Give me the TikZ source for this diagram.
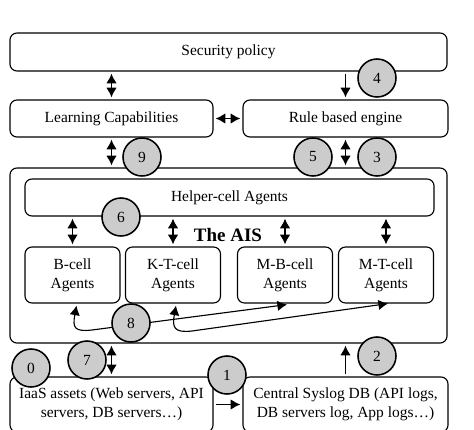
\documentclass[tikz,border=0pt]{standalone}
\usepackage{fontspec}
\setmainfont{Liberation Serif}
\usetikzlibrary{arrows.meta, positioning, calc}
\tikzset{>={Latex[width=2.6mm,length=2.4mm]}}

\begin{document}
\begin{tikzpicture}[x=0.025cm, y=-0.025cm, font=\fontsize{11}{13.5}\selectfont,
	box/.style={draw, thick, rounded corners=5pt, align=center, inner sep=0pt},
	agent/.style={box, minimum width=2.375cm, minimum height=1.4cm},
	num/.style={circle, draw, line width=1.1pt, fill=gray!40, minimum size=0.95cm, inner sep=0pt},
	link/.style={arrows={Latex[width=2.6mm,length=2.4mm]-Latex[width=2.6mm,length=2.4mm]}, thick, shorten <=1.5pt, shorten >=1.5pt},
	oneway/.style={arrows={-Latex[width=2.6mm,length=2.4mm]}, thick, shorten <=1.5pt, shorten >=1.5pt}]
			\useasboundingbox (0,0) rectangle (474,429);
			\node (sec) [box, minimum width=10.925cm, minimum height=0.95cm] at (228.5,52) {Security policy};
			\node (learn) [box, minimum width=5.075cm, minimum height=0.925cm] at (111.5,118.5) {Learning Capabilities};
			\node (rule) [box, minimum width=5.125cm, minimum height=0.925cm] at (345.5,118.5) {Rule based engine};
			\node (ais) [box, minimum width=10.925cm, minimum height=4.375cm] at (228.5,255.5) {};
			\node (helper) [box, minimum width=10.225cm, minimum height=0.925cm] at (229.5,197.5) {Helper-cell Agents};
			\node (aisname) at (228,235) {\fontsize{13.5}{15}\selectfont\bfseries The AIS};
			\node (bcell) [agent] at (72.5,275) {B-cell\\Agents};
			\node (ktcell) [agent] at (173,275) {K-T-cell\\Agents};
			\node (mbcell) [agent] at (285,275) {M-B-cell\\Agents};
			\node (mtcell) [agent] at (386,275) {M-T-cell\\Agents};
			\node (iaas) [box, minimum width=5.075cm, minimum height=1.375cm] at (111.5,404.5) {IaaS assets (Web servers, API\\servers, DB servers\ldots)};
			\node (syslog) [box, minimum width=5.125cm, minimum height=1.375cm] at (345.5,404.5) {Central Syslog DB (API logs,\\DB servers log, App logs\ldots)};
			\path[link]
			(sec.south -| learn.north) edge (learn.north)
			(learn.east) edge (rule.west)
			(learn.south) edge (ais.north -| learn.south)
			(rule.south) edge (ais.north -| rule.south)
			(helper.south -| bcell.north) edge (bcell.north)
			(helper.south -| ktcell.north) edge (ktcell.north)
			(helper.south -| mbcell.north) edge (mbcell.north)
			(helper.south -| mtcell.north) edge (mtcell.north)
			(ais.south -| iaas.north) edge (iaas.north);
			\path[oneway]
			(sec.south -| rule.north) edge (rule.north)
			(iaas.east) edge (syslog.west)
			(syslog.north) edge (ais.south -| syslog.north);
			\draw[link, shorten <=0pt, shorten >=0pt] ($(bcell.south)+(4,2)$) .. controls +(-4,22) and +(-18,2) .. (92,330) -- ($(mbcell.south)+(2,1)$);
			\draw[link, shorten <=0pt, shorten >=0pt] ($(ktcell.south)+(3,2)$) .. controls +(-4,22) and +(-18,2) .. (192,331) -- ($(mtcell.south)+(2,0)$);
			\node (c0) [num] at (31,368) {0};
			\node (c1) [num] at (227,375) {1};
			\node (c2) [num] at (377,356) {2};
			\node (c3) [num] at (377,157) {3};
			\node (c4) [num] at (377,78) {4};
			\node (c5) [num] at (313,157) {5};
			\node (c6) [num] at (121,217) {6};
			\node (c7) [num] at (87,360) {7};
			\node (c8) [num] at (131,323) {8};
			\node (c9) [num] at (142,157) {9};
\end{tikzpicture}
\end{document}
